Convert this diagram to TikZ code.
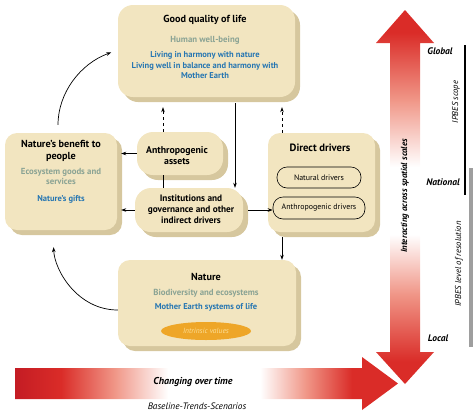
\documentclass[tikz,border=0pt]{standalone}
\usepackage{fontspec}
\setmainfont{PT Sans}
\usetikzlibrary{arrows.meta, positioning, shapes.geometric, shadows}

\definecolor{boxface}{RGB}{242,229,192}
\definecolor{boxshade}{RGB}{214,199,158}
\definecolor{subgreen}{RGB}{138,163,148}
\definecolor{giftblue}{RGB}{38,118,178}
\definecolor{arrowred}{RGB}{218,44,40}
\definecolor{arrowdark}{RGB}{196,28,36}
\definecolor{arrowpink}{RGB}{240,150,135}
\definecolor{valorange}{RGB}{238,166,40}
\definecolor{valtext}{RGB}{252,222,150}

\pgfdeclarehorizontalshading{timefade}{100bp}{color(0bp)=(arrowdark); color(25bp)=(arrowdark);
    color(31bp)=(arrowred); color(38bp)=(arrowpink); color(45bp)=(white); color(57bp)=(white);
    color(63bp)=(arrowpink); color(69bp)=(arrowred); color(100bp)=(arrowred)}
\pgfdeclareverticalshading{spacefade}{100bp}{color(0bp)=(arrowred); color(28bp)=(arrowred);
    color(37bp)=(arrowpink); color(45bp)=(white); color(54bp)=(white);
    color(63bp)=(arrowpink); color(72bp)=(arrowred); color(100bp)=(arrowred)}

\tikzset{
    box/.style={rectangle, rounded corners=12pt, fill=boxface, inner sep=0pt,
        drop shadow={fill=boxshade, opacity=1, shadow xshift=5pt, shadow yshift=-5pt}},
    pill/.style={rectangle, rounded corners=10pt, draw=black, line width=0.6pt,
        inner sep=0pt, font=\fontsize{7.9}{9}\selectfont},
    title/.style={font=\fontsize{10.2}{12}\selectfont\bfseries, align=center, inner sep=0pt},
    sub/.style={font=\fontsize{8.8}{10}\selectfont\bfseries, text=subgreen, align=center, inner sep=0pt},
    gift/.style={font=\fontsize{8.5}{10.5}\selectfont\bfseries, text=giftblue, align=center, inner sep=0pt},
    scale label/.style={font=\fontsize{9.5}{11}\selectfont\bfseries\itshape, inner sep=0pt},
    ipbes/.style={font=\fontsize{8.6}{10}\selectfont\itshape, rotate=90, inner sep=0pt},
    conn/.style={-{Stealth[length=5pt, width=3.6pt]}, line width=0.7pt},
}

\begin{document}
\begin{tikzpicture}[x=1pt, y=-1pt]
    \useasboundingbox (0,0) rectangle (474,413);

    % the two scale arrows
    \shade[shading=timefade]
        (15,368) -- (362,368) -- (362,357) -- (398,383.5) --
        (362,410) -- (362,399) -- (15,399) -- cycle;
    \shade[shading=spacefade]
        (405,10) -- (434,43) -- (420,43) -- (420,352) -- (434,352) --
        (405,384) -- (376,352) -- (390,352) -- (390,43) -- (376,43) -- cycle;
    \node (time) at (193,382) [scale label, font=\fontsize{10}{12}\selectfont\bfseries\itshape] {Changing over time};
    \node (bts) at (197,406) [font=\fontsize{9.3}{11}\selectfont\itshape, inner sep=0pt] {Baseline-Trends-Scenarios};
    \node (space) at (405,196) [scale label, font=\fontsize{8.8}{10}\selectfont\bfseries\itshape, rotate=90] {Interacting across spatial scales};

    % IPBES scope and resolution
    \draw[line width=2.5pt] (465,45) -- (465,195);
    \fill[black!38] (469,168) rectangle (473,347);
    \node (global) at (440,51) [scale label] {Global};
    \node (national) at (443,182) [scale label] {National};
    \node (local) at (438,338) [scale label] {Local};
    \node (scope) at (456,102) [ipbes] {IPBES scope};
    \node (resol) at (459,264) [ipbes] {IPBES level of resolution};

    % the boxes
    \node (good) at (206.5,51) [box, minimum width=177pt, minimum height=92pt, rounded corners=15pt] {};
    \node (benefit) at (61,181.5) [box, minimum width=112pt, minimum height=97pt] {};
    \node (direct) at (321.5,182.5) [box, minimum width=107pt, minimum height=99pt] {};
    \node (nature) at (207,303) [box, minimum width=178pt, minimum height=86pt] {};
    \node (inst) at (189,210) [box, minimum width=108pt, minimum height=44pt, rounded corners=16pt] {};
    \node (assets) at (180,153.5) [box, minimum width=86pt, minimum height=43pt, rounded corners=16pt] {};

    % texts in the boxes
    \node (goodT) at (205,20) [title] {Good quality of life};
    \node (goodS) at (205,40) [sub] {Human well-being};
    \node (goodG) at (205,65.5) [gift] {Living in harmony with nature\\Living well in balance and harmony with\\Mother Earth};
    \node (benefitT) at (61,151) [title] {Nature’s benefit to\\people};
    \node (benefitS) at (61,176) [sub] {Ecosystem goods and\\services};
    \node (benefitG) at (61,199) [gift] {Nature’s gifts};
    \node (assetsT) at (177,155.5) [title, font=\fontsize{9.8}{11.5}\selectfont\bfseries] {Anthropogenic\\assets};
    \node (instT) at (191,209) [title, font=\fontsize{9.3}{11}\selectfont\bfseries] {Institutions and\\governance and other\\indirect drivers};
    \node (directT) at (320,148) [title, font=\fontsize{10.6}{12}\selectfont\bfseries] {Direct drivers};
    \node (natural) at (319,177.5) [pill, minimum width=84pt, minimum height=21pt] {Natural drivers};
    \node (anthro) at (319,208) [pill, minimum width=92pt, minimum height=22pt] {Anthropogenic drivers};
    \node (natureT) at (206,277) [title] {Nature};
    \node (natureS) at (206,293) [sub] {Biodiversity and ecosystems};
    \node (natureG) at (206,307) [gift] {Mother Earth systems of life};
    \node (values) at (206,331) [ellipse, fill=valorange, minimum width=90pt, minimum height=18pt,
        inner sep=0pt, text=valtext, font=\fontsize{7.5}{9}\selectfont\itshape] {Intrinsic values};

    % connectors
    \draw[conn, shorten <=6pt] (good.south -| 235,0) -- (inst.north -| 235,0);
    \draw[conn, dashed, shorten >=10pt] (assets.north -| 163,0) -- (good.south -| 163,0);
    \draw[line width=0.7pt] (inst.north -| 163,0) -- (assets.south -| 163,0);
    \draw[conn, dashed, shorten >=10pt] (direct.north -| 282,0) -- (good.south -| 282,0);
    \draw[conn, shorten <=5pt] (direct.south -| 282,0) -- (nature.north -| 282,0);
    \draw[conn, shorten >=4pt] (assets.west) -- (benefit.east |- assets.west);
    \draw[conn, shorten >=4pt] (inst.west) -- (benefit.east |- inst.west);
    \draw[conn, shorten <=5pt] (inst.east) -- (inst.east -| anthro.west);
    \draw[conn, shorten <=8pt, shorten >=7pt] (benefit.north -| 58,0) to[out=90, in=200] (good.west |- 0,50);
    \draw[conn, shorten >=17pt] (nature.west |- 0,310) to[out=180, in=-88] (benefit.south -| 53,0);
\end{tikzpicture}
\end{document}
